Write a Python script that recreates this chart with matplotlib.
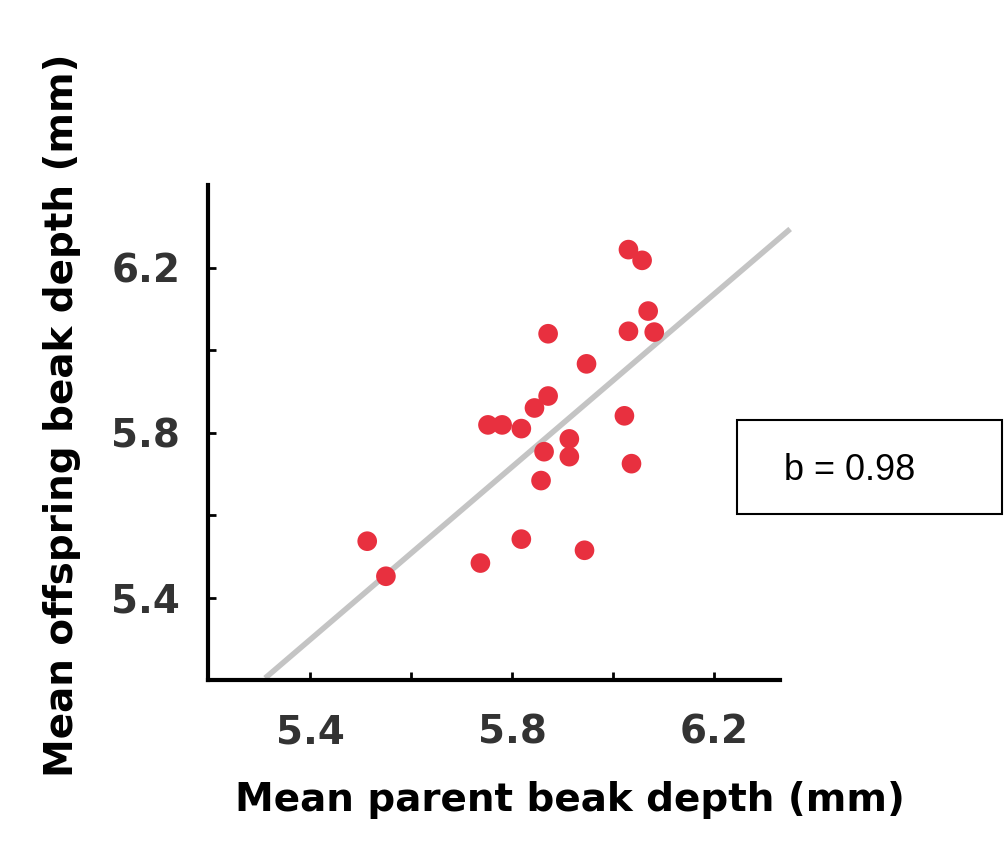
import matplotlib
matplotlib.use("Agg")
import matplotlib.pyplot as plt
from matplotlib.patches import Rectangle

parent = [5.513, 5.550, 5.737, 5.752, 5.780, 5.818, 5.844, 5.871, 5.871, 5.818, 5.857, 5.863,
          5.913, 5.913, 5.947, 5.943, 6.030, 6.057, 6.069, 6.081, 6.030, 6.022, 6.036]
offspring = [5.537, 5.452, 5.484, 5.819, 5.819, 5.81, 5.86, 5.889, 6.04, 5.542, 5.684, 5.754,
             5.785, 5.742, 5.967, 5.515, 6.244, 6.218, 6.095, 6.044, 6.046, 5.841, 5.725]
fit_x = [5.311, 6.35]
fit_y = [5.205, 6.294]
ticks = [5.4, 5.8, 6.2]
minor = [5.6, 6.0]

fig = plt.figure(figsize=(10.06, 8.46), dpi=100)
ax = fig.add_axes([0.2068, 0.196, 0.5686, 0.585])
ax.plot(fit_x, fit_y, color="#c4c4c4", lw=4, solid_capstyle="butt", zorder=1, clip_on=False)
ax.scatter(parent, offspring, s=200, color="#e8303f", edgecolors="none", zorder=2)
ax.set_xlim(5.198, 6.33)
ax.set_ylim(5.2, 6.4)
for s in ["top", "right"]:
    ax.spines[s].set_visible(False)
for s in ["left", "bottom"]:
    ax.spines[s].set_linewidth(3)
ax.set_xticks(ticks)
ax.set_yticks(ticks)
ax.set_xticks(minor, minor=True)
ax.set_yticks(minor, minor=True)
ax.set_xticklabels([str(t) for t in ticks], fontsize=28, fontweight="bold", color="#333333")
ax.set_yticklabels([str(t) for t in ticks], fontsize=28, fontweight="bold", color="#333333")
ax.tick_params(which="both", direction="in", width=2, length=6)
ax.tick_params(axis="x", pad=24)
ax.tick_params(axis="y", pad=20)
fig.text(570/1006, 1-800/846, "Mean parent beak depth (mm)", fontsize=28, fontweight="bold",
         ha="center", va="center")
fig.text(62/1006, 1-415/846, "Mean offspring beak depth (mm)", fontsize=28, fontweight="bold",
         ha="center", va="center", rotation=90)
fig.patches.append(Rectangle((737/1006, 1-514/846), 265/1006, 94/846, transform=fig.transFigure,
                             fill=False, edgecolor="black", lw=1.5))
fig.text(850/1006, 1-470/846, "b = 0.98", fontsize=26, ha="center", va="center",
         family="Liberation Sans")
fig.savefig("out.png", dpi=100)
